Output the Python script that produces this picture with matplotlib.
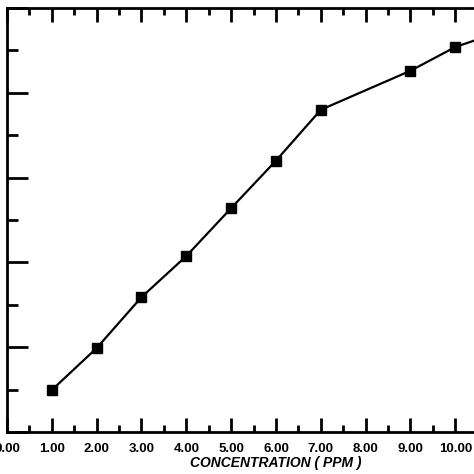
import matplotlib
matplotlib.use("Agg")
from matplotlib import pyplot as plt
from matplotlib.ticker import MultipleLocator, FormatStrFormatter

# concentration (ppm) and response
concentration = [1, 2, 3, 4, 5, 6, 7, 9, 10, 11]
response = [0.495, 0.99, 1.59, 2.075, 2.64, 3.20, 3.80, 4.26, 4.54, 4.72]

x_ticks = [0, 1, 2, 3, 4, 5, 6, 7, 8, 9, 10, 11, 12]
x_label = "CONCENTRATION ( PPM )"

plt.rcParams["font.family"] = ["Liberation Sans", "DejaVu Sans"]

fig = plt.figure(figsize=(4.74, 4.74), dpi=100)
# the reference is a crop: the axes run past the right edge of the picture
ax = fig.add_axes([7 / 474, 42 / 474, 538 / 474, 424 / 474])

ax.plot(concentration, response, "-s", color="black", linewidth=1.6,
        markersize=7.5)

ax.set_xlim(0, 12)
ax.set_ylim(0, 5)
ax.set_xticks(x_ticks)
ax.xaxis.set_major_formatter(FormatStrFormatter("%.2f"))
ax.xaxis.set_minor_locator(MultipleLocator(0.5))
ax.yaxis.set_major_locator(MultipleLocator(1))
ax.yaxis.set_minor_locator(MultipleLocator(0.5))

for spine in ax.spines.values():
    spine.set_linewidth(2)

ax.tick_params(which="both", direction="in", top=True, right=True,
               width=2, labelleft=False)
ax.tick_params(axis="x", which="major", length=10, pad=8, labelsize=9.5)
ax.tick_params(axis="x", which="minor", length=5)
ax.tick_params(axis="y", which="major", length=15)
ax.tick_params(axis="y", which="minor", length=8)
for label in ax.get_xticklabels():
    label.set_fontweight("heavy")

ax.set_xlabel(x_label, fontsize=10, fontweight="heavy", style="italic",
              labelpad=1)

plt.savefig("out.png", dpi=100)
